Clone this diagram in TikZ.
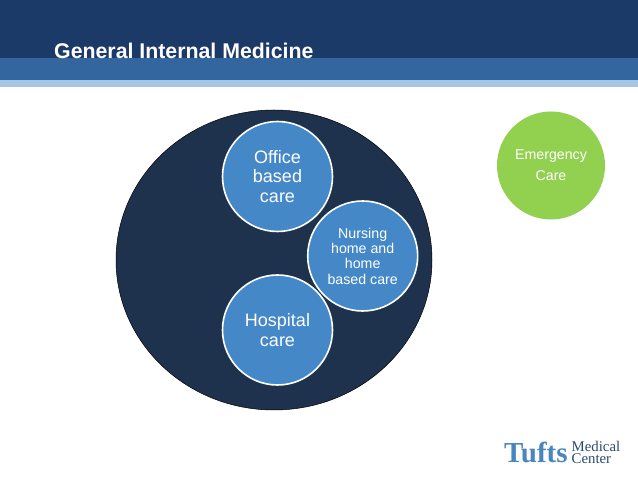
\documentclass[tikz,border=0pt]{standalone}
\usepackage{fontspec}
\usetikzlibrary{shapes.geometric}
\setmainfont{Liberation Sans}
\newfontfamily\logofont{Liberation Serif}
\definecolor{bandDark}{HTML}{1B3A68}
\definecolor{bandMid}{HTML}{33669E}
\definecolor{bandLight}{HTML}{A4C6E4}
\definecolor{bigFill}{HTML}{1F324D}
\definecolor{innerFill}{HTML}{4488C8}
\definecolor{greenFill}{HTML}{92D050}
\definecolor{logoBlue}{HTML}{4A86BE}
\definecolor{logoDark}{HTML}{2B4A70}
\tikzset{
  x=1pt,y=-1pt,
  band/.style={fill=#1,draw=none},
  inner/.style={circle,minimum size=110pt,inner sep=0pt,fill=innerFill,draw=white,line width=1.6pt,text=white,align=center},
}
\begin{document}
\begin{tikzpicture}
\useasboundingbox (0,0) rectangle (638,478);
\fill[white] (0,0) rectangle (638,478);
\path[band=bandDark] (0,0) rectangle (638,58);
\path[band=bandMid] (0,58) rectangle (638,80);
\path[band=bandLight] (0,80) rectangle (638,87);
\node[anchor=base west,inner sep=0pt,text=white,font=\fontsize{21.3}{24}\selectfont\bfseries] (title) at (54,59) {General Internal Medicine};
\node[ellipse,minimum width=316pt,minimum height=300pt,inner sep=0pt,fill=bigFill,draw=black,line width=0.5pt] (big) at (274,260) {};
\node[inner,font=\fontsize{18}{19.5}\selectfont] (office) at (277.5,176.5) {Office\\based\\care};
\node[inner,font=\fontsize{14.2}{15.3}\selectfont] (nursing) at (362.7,256) {Nursing\\home and\\home\\based care};
\node[inner,font=\fontsize{18}{20}\selectfont] (hospital) at (277.5,330) {Hospital\\care};
\node[circle,minimum size=108pt,inner sep=0pt,fill=greenFill,text=white,align=center,font=\fontsize{14.2}{21}\selectfont] (emerg) at (551,165.5) {Emergency\\Care};
\node[anchor=base west,inner sep=0pt,text=logoBlue,font=\fontsize{29}{29}\logofont\bfseries] (tufts) at (504,462.5) {Tufts};
\node[anchor=west,inner sep=0pt,text=logoDark,align=left,font=\fontsize{14.8}{11.5}\logofont] (medcenter) at (571.5,452.3) {Medical\\Center};
\end{tikzpicture}
\end{document}
